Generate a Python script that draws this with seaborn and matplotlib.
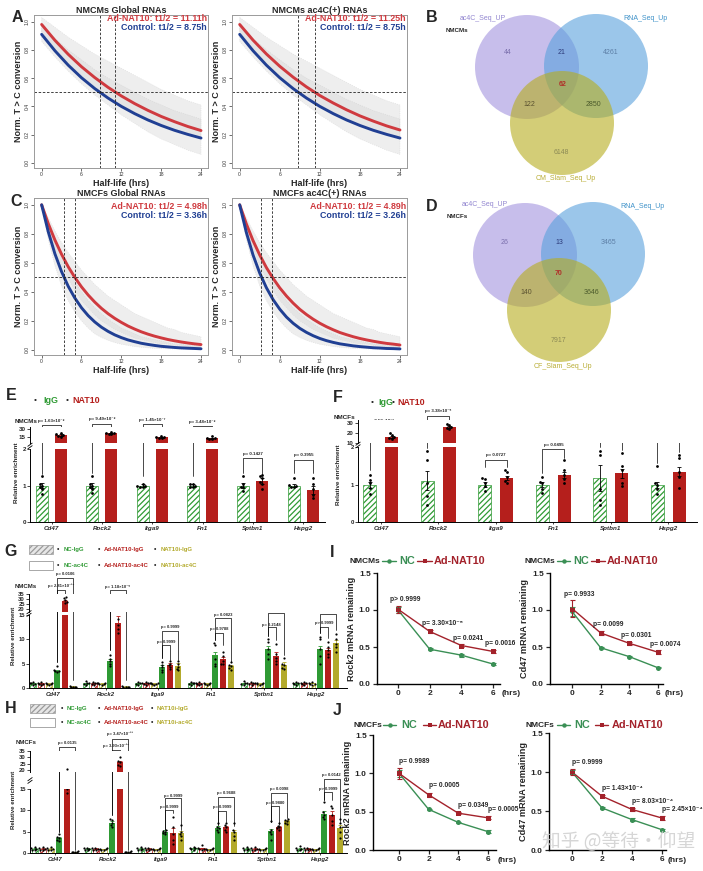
import numpy as np
import pandas as pd
import matplotlib
matplotlib.use("Agg")
import matplotlib.pyplot as plt
import seaborn as sns
from matplotlib.patches import Circle, Rectangle
from matplotlib.transforms import blended_transform_factory, Affine2D
import warnings
warnings.filterwarnings("ignore")

# ======================= DATA =======================
# Panel A (NMCMs) decay curves
A_T = [0, 2, 4, 6, 8, 10, 12, 14, 16, 18, 20, 22, 24]
A1_AD = [0.98, 0.868, 0.769, 0.681, 0.604, 0.535, 0.474, 0.420, 0.372, 0.329, 0.292, 0.258, 0.229]
A1_CTL = [0.91, 0.794, 0.692, 0.603, 0.526, 0.459, 0.400, 0.349, 0.304, 0.265, 0.231, 0.202, 0.176]
A2_AD = [0.98, 0.869, 0.771, 0.684, 0.607, 0.538, 0.477, 0.424, 0.376, 0.333, 0.296, 0.262, 0.233]
A2_CTL = [0.91, 0.794, 0.692, 0.603, 0.526, 0.459, 0.400, 0.349, 0.304, 0.265, 0.231, 0.202, 0.176]
A_BAND_HI = [1.03, 0.96, 0.89, 0.83, 0.77, 0.72, 0.67, 0.62, 0.57, 0.52, 0.48, 0.44, 0.41]
A_BAND_AD_LO = [0.93, 0.81, 0.71, 0.62, 0.54, 0.47, 0.41, 0.36, 0.31, 0.27, 0.23, 0.20, 0.17]
A_BAND_CTL_HI = [0.97, 0.88, 0.80, 0.73, 0.66, 0.60, 0.55, 0.50, 0.45, 0.41, 0.37, 0.34, 0.31]
A_BAND_LO = [0.86, 0.75, 0.65, 0.56, 0.48, 0.41, 0.34, 0.28, 0.22, 0.17, 0.13, 0.09, 0.06]
A1_HALF = (11.11, 8.75)
A2_HALF = (11.25, 8.75)

# Panel C (NMCFs) decay curves
C_T = list(range(0, 25))
C1_AD = [1.000, 0.870, 0.757, 0.659, 0.573, 0.499, 0.434, 0.378, 0.329, 0.286, 0.249, 0.217, 0.189,
         0.164, 0.143, 0.124, 0.108, 0.094, 0.082, 0.071, 0.062, 0.054, 0.047, 0.041, 0.036]
C1_CTL = [1.000, 0.814, 0.662, 0.539, 0.438, 0.357, 0.290, 0.236, 0.192, 0.156, 0.127, 0.103, 0.084,
          0.068, 0.056, 0.045, 0.037, 0.030, 0.024, 0.020, 0.016, 0.013, 0.011, 0.009, 0.007]
C2_AD = [1.000, 0.868, 0.753, 0.654, 0.567, 0.493, 0.427, 0.371, 0.322, 0.279, 0.243, 0.211, 0.183,
         0.159, 0.138, 0.119, 0.104, 0.090, 0.078, 0.068, 0.059, 0.051, 0.044, 0.039, 0.033]
C2_CTL = [1.000, 0.809, 0.654, 0.529, 0.428, 0.346, 0.280, 0.226, 0.183, 0.148, 0.120, 0.097, 0.078,
          0.063, 0.051, 0.041, 0.034, 0.027, 0.022, 0.018, 0.014, 0.012, 0.009, 0.008, 0.006]
C_BAND_HI = [1.0, 0.91, 0.82, 0.74, 0.67, 0.61, 0.55, 0.50, 0.45, 0.41, 0.37, 0.34, 0.31,
             0.28, 0.25, 0.23, 0.21, 0.19, 0.17, 0.15, 0.14, 0.12, 0.11, 0.10, 0.09]
C_BAND_AD_LO = [1.0, 0.84, 0.70, 0.58, 0.49, 0.41, 0.34, 0.29, 0.24, 0.20, 0.17, 0.14, 0.12,
                0.10, 0.08, 0.07, 0.06, 0.05, 0.04, 0.04, 0.03, 0.03, 0.02, 0.02, 0.02]
C_BAND_CTL_HI = [1.0, 0.87, 0.75, 0.64, 0.55, 0.47, 0.40, 0.34, 0.29, 0.25, 0.21, 0.18, 0.15,
                 0.13, 0.11, 0.09, 0.08, 0.07, 0.06, 0.05, 0.04, 0.04, 0.03, 0.03, 0.02]
C_BAND_LO = [1.0, 0.76, 0.58, 0.44, 0.34, 0.26, 0.20, 0.15, 0.11, 0.085, 0.065, 0.05, 0.038,
             0.03, 0.022, 0.017, 0.013, 0.01, 0.008, 0.006, 0.005, 0.004, 0.003, 0.002, 0.002]
C1_HALF = (4.98, 3.36)
C2_HALF = (4.89, 3.26)

# Venn counts (order: only-ac4C, ac4C&RNA, only-RNA, all three, ac4C&Slam, RNA&Slam, only-Slam)
B_COUNTS = ["44", "21", "4261", "62", "122", "2850", "6148"]
D_COUNTS = ["26", "13", "3465", "70", "140", "3646", "7917"]
B_SETS = ["ac4C_Seq_UP", "RNA_Seq_Up", "CM_Slam_Seq_Up"]
D_SETS = ["ac4C_Seq_UP", "RNA_Seq_Up", "CF_Slam_Seq_Up"]

# Panels E / F (RIP enrichment)
GENES = ["Cd47", "Rock2", "Itga9", "Fn1", "Sptbn1", "Hspg2"]
E_IGG = [1.00, 1.00, 1.00, 1.00, 1.00, 1.00]
E_IGG_SEM = [0.07, 0.07, 0.03, 0.03, 0.06, 0.04]
E_NAT = [19.0, 22.0, 15.0, 13.0, 1.13, 0.88]
E_NAT_SEM = [1.0, 0.8, 1.0, 0.8, 0.08, 0.12]
E_IGG_PTS = [[1.25, 1.05, 1.0, 0.95, 0.9, 0.78], [1.25, 1.05, 1.0, 0.95, 0.9, 0.8],
             [1.05, 1.0, 0.98, 0.97, 0.95], [1.05, 1.03, 1.0, 0.97, 0.95],
             [1.25, 1.05, 0.97, 0.95, 0.85], [1.2, 1.02, 1.0, 0.97, 0.95]]
E_NAT_PTS = [[23, 21, 19, 18, 16], [25, 23, 22, 21, 20], [18, 16, 15, 14, 13],
             [17, 14, 13, 12, 11], [1.3, 1.25, 1.2, 1.1, 1.05, 0.9], [1.2, 1.05, 0.9, 0.75, 0.65]]
E_P = ["p= 1.63×10⁻⁸", "p= 9.49×10⁻⁸", "p= 1.45×10⁻⁷", "p= 3.48×10⁻⁸", "p= 0.1427", "p= 0.3955"]

F_IGG = [1.0, 1.1, 1.0, 1.0, 1.18, 1.0]
F_IGG_SEM = [0.08, 0.25, 0.06, 0.06, 0.35, 0.08]
F_NAT = [16.0, 26.0, 1.18, 1.26, 1.30, 1.34]
F_NAT_SEM = [1.0, 0.8, 0.06, 0.08, 0.12, 0.12]
F_IGG_PTS = [[1.26, 1.13, 1.05, 0.9, 0.75], [1.9, 1.66, 1.05, 0.7, 0.45], [1.18, 1.15, 1.03, 0.95, 0.83],
             [1.2, 1.08, 1.03, 0.87, 0.77], [1.9, 1.8, 0.87, 0.6, 0.45], [1.5, 1.03, 0.98, 0.87, 0.75]]
F_NAT_PTS = [[20, 18, 16, 15, 14], [29, 28, 26, 25, 24], [1.4, 1.34, 1.2, 1.1, 1.05],
             [1.66, 1.4, 1.25, 1.15, 1.05], [1.85, 1.5, 1.4, 1.05, 0.97], [1.78, 1.7, 1.34, 1.2, 0.9]]
F_P = ["p= 8.53×10⁻⁶", "p= 3.38×10⁻⁵", "p= 0.0727", "p= 0.0495", "p= 0.7787", "p= 0.0080"]

# Panels G / H (groups: NC-IgG, Ad-NAT10-IgG, NAT10i-IgG, NC-ac4C, Ad-NAT10-ac4C, NAT10i-ac4C)
GROUPS = ["NC-IgG", "Ad-NAT10-IgG", "NAT10i-IgG", "NC-ac4C", "Ad-NAT10-ac4C", "NAT10i-ac4C"]
G_MEAN = [[1.0, 1.0, 0.9, 3.5, 28.0, 0.3], [1.0, 1.0, 0.9, 5.5, 13.3, 0.3],
          [1.0, 1.0, 0.9, 4.3, 4.7, 4.5], [1.0, 1.0, 0.9, 6.7, 5.9, 4.5],
          [1.0, 1.0, 0.9, 8.1, 6.5, 4.8], [1.0, 1.0, 1.0, 8.0, 7.8, 9.2]]
G_SEM = [[0.1, 0.1, 0.05, 0.2, 1.2, 0.05], [0.1, 0.1, 0.05, 0.4, 1.4, 0.05],
         [0.1, 0.1, 0.05, 0.5, 0.4, 0.6], [0.1, 0.1, 0.05, 0.8, 0.5, 0.3],
         [0.1, 0.1, 0.05, 0.6, 0.8, 0.5], [0.1, 0.1, 0.05, 0.6, 0.5, 0.7]]
G_PTS = [
    [[1.3, 1.1, 1.0, 0.8, 0.7], [1.3, 1.1, 0.9, 0.8, 0.7], [1.1, 1.0, 0.9, 0.8, 0.7],
     [4.6, 3.6, 3.5, 3.4, 3.3], [32, 31, 29, 27, 26], [0.4, 0.3, 0.3, 0.25, 0.2]],
    [[1.4, 1.1, 1.0, 0.8, 0.6], [1.2, 1.1, 1.0, 0.9, 0.7], [1.1, 1.0, 0.9, 0.8, 0.7],
     [6.8, 6.0, 5.5, 5.0, 4.5], [15.8, 14.2, 13.0, 12.2, 11.3], [0.4, 0.3, 0.3, 0.25, 0.2]],
    [[1.3, 1.1, 1.0, 0.8, 0.7], [1.2, 1.1, 1.0, 0.8, 0.7], [1.1, 1.0, 0.9, 0.8, 0.7],
     [5.3, 4.8, 4.3, 3.8, 3.2], [5.5, 5.0, 4.7, 4.4, 3.9], [5.5, 4.9, 4.4, 4.0, 3.7]],
    [[1.3, 1.1, 1.0, 0.8, 0.7], [1.3, 1.1, 0.9, 0.8, 0.7], [1.1, 1.0, 0.9, 0.8, 0.7],
     [9.2, 8.8, 6.0, 5.0, 4.5], [7.5, 6.5, 5.5, 5.0, 5.0], [5.3, 4.8, 4.5, 4.1, 3.8]],
    [[1.4, 1.1, 1.0, 0.8, 0.7], [1.2, 1.1, 1.0, 0.8, 0.7], [1.1, 1.0, 0.9, 0.8, 0.7],
     [10.0, 9.5, 8.0, 7.0, 6.0], [9.0, 7.0, 6.2, 5.5, 5.0], [6.2, 5.0, 4.7, 4.2, 3.9]],
    [[1.3, 1.1, 1.0, 0.8, 0.7], [1.2, 1.1, 1.0, 0.8, 0.7], [1.2, 1.0, 0.9, 0.8, 0.7],
     [10.5, 10.0, 8.0, 6.5, 5.0], [9.5, 8.5, 7.8, 7.0, 6.3], [11.0, 10.0, 9.0, 8.5, 7.5]],
]
G_P_LOW = ["p= 2.81×10⁻¹⁰", "p= 4.21×10⁻⁵", "p= 0.9999", "p= 0.9788", "p= 0.2148", "p> 0.9999"]
G_P_HIGH = ["p= 0.0106", "p= 1.18×10⁻⁵", "p= 0.9999", "p= 0.0823", "p= 6.13×10⁻⁴", "p= 0.7026"]

H_MEAN = [[1.0, 1.0, 1.0, 3.5, 17.0, 0.3], [1.0, 1.0, 0.9, 7.1, 26.0, 0.3],
          [1.0, 1.0, 0.9, 5.0, 4.8, 4.6], [1.1, 1.1, 0.9, 5.9, 6.0, 4.9],
          [1.0, 1.0, 0.9, 5.1, 6.1, 7.4], [1.0, 1.0, 0.9, 9.1, 8.9, 5.9]]
H_SEM = [[0.1, 0.1, 0.1, 0.3, 1.5, 0.05], [0.1, 0.1, 0.05, 0.5, 1.0, 0.05],
         [0.1, 0.1, 0.05, 0.3, 1.0, 0.5], [0.15, 0.15, 0.05, 0.4, 0.4, 0.6],
         [0.1, 0.1, 0.05, 0.6, 0.3, 0.3], [0.1, 0.1, 0.05, 0.7, 0.9, 0.7]]
H_PTS = [
    [[1.4, 1.1, 1.0, 0.8, 0.7], [1.3, 1.1, 1.0, 0.8, 0.7], [1.4, 1.1, 0.9, 0.8, 0.7],
     [4.5, 3.8, 3.5, 3.0, 2.7], [21, 18, 17, 15, 14], [0.4, 0.3, 0.3, 0.2, 0.2]],
    [[1.2, 1.1, 1.0, 0.8, 0.7], [1.2, 1.1, 1.0, 0.8, 0.7], [1.1, 1.0, 0.9, 0.8, 0.7],
     [8.0, 7.8, 7.0, 6.5, 6.0], [30, 27, 26, 24, 23], [0.4, 0.3, 0.3, 0.2, 0.2]],
    [[1.3, 1.1, 1.0, 0.8, 0.7], [1.2, 1.1, 1.0, 0.8, 0.7], [1.1, 1.0, 0.9, 0.8, 0.7],
     [5.5, 5.2, 5.0, 4.7, 4.5], [8.5, 6.0, 4.5, 3.0, 2.0], [6.5, 5.0, 4.5, 4.0, 3.0]],
    [[1.5, 1.2, 1.1, 0.9, 0.8], [1.8, 1.2, 1.0, 0.9, 0.7], [1.1, 1.0, 0.9, 0.8, 0.7],
     [7.0, 6.2, 5.8, 5.5, 5.0], [7.0, 6.5, 6.0, 5.5, 5.0], [7.0, 5.5, 5.0, 4.0, 3.0]],
    [[1.3, 1.1, 1.0, 0.8, 0.7], [1.4, 1.1, 1.0, 0.8, 0.7], [1.1, 1.0, 0.9, 0.8, 0.7],
     [7.5, 5.5, 5.0, 4.5, 3.0], [7.0, 6.3, 6.0, 5.8, 5.5], [8.0, 7.8, 7.4, 7.0, 6.8]],
    [[1.6, 1.1, 1.0, 0.8, 0.7], [1.2, 1.1, 1.0, 0.8, 0.7], [1.1, 1.0, 0.9, 0.8, 0.7],
     [12.0, 9.5, 9.0, 8.5, 8.0], [11.0, 10.5, 9.0, 7.5, 6.5], [8.0, 7.0, 6.0, 5.0, 3.5]],
]
H_P_LOW = ["p= 5.97×10⁻¹¹", "p= 3.93×10⁻¹⁰", "p= 0.9999", "p= 0.9999", "p= 0.9880", "p> 0.9999"]
H_P_HIGH = ["p= 0.0135", "p= 3.47×10⁻¹¹", "p= 0.9999", "p= 0.9688", "p= 0.0098", "p= 0.0142"]

# Panels I / J (mRNA remaining)
TIME = [0, 2, 4, 6]
I1_NC = [1.00, 0.47, 0.39, 0.27]; I1_NC_SEM = [0.04, 0.01, 0.02, 0.015]
I1_AD = [1.01, 0.71, 0.52, 0.44]; I1_AD_SEM = [0.05, 0.02, 0.015, 0.02]
I1_P = ["p> 0.9999", "p= 3.30×10⁻⁵", "p= 0.0241", "p= 0.0016"]
I2_NC = [0.98, 0.49, 0.37, 0.22]; I2_NC_SEM = [0.06, 0.01, 0.01, 0.01]
I2_AD = [1.02, 0.69, 0.55, 0.43]; I2_AD_SEM = [0.11, 0.03, 0.02, 0.025]
I2_P = ["p= 0.9933", "p= 0.0099", "p= 0.0301", "p= 0.0074"]
J1_NC = [1.00, 0.53, 0.36, 0.24]; J1_NC_SEM = [0.05, 0.01, 0.01, 0.015]
J1_AD = [1.00, 0.72, 0.48, 0.42]; J1_AD_SEM = [0.07, 0.03, 0.01, 0.02]
J1_P = ["p= 0.9989", "p= 0.0005", "p= 0.0349", "p= 0.0005"]
J2_NC = [1.00, 0.54, 0.39, 0.26]; J2_NC_SEM = [0.03, 0.01, 0.015, 0.01]
J2_AD = [1.00, 0.69, 0.52, 0.41]; J2_AD_SEM = [0.04, 0.01, 0.015, 0.02]
J2_P = ["p= 0.9999", "p= 1.43×10⁻⁴", "p= 8.03×10⁻⁴", "p= 2.45×10⁻⁴"]

# ======================= STYLE =======================
sns.set_theme(style="white")
plt.rcParams["font.family"] = ["Liberation Sans", "DejaVu Sans"]
plt.rcParams["hatch.linewidth"] = 0.9
plt.rcParams["axes.unicode_minus"] = False

RED_A, BLUE_A = "#cf3a3f", "#203f93"
GREEN, RED, OLIVE = "#2f9a34", "#b51f1c", "#b3aa2c"
LGREEN, LRED = "#3a8f55", "#a3222b"

W, H = 703, 871
fig = plt.figure(figsize=(W / 100, H / 100), dpi=100)
PIX = Affine2D().scale(1, -1).translate(0, H)

ov = fig.add_axes([0, 0, 1, 1], zorder=20)
ov.set_xlim(0, W); ov.set_ylim(H, 0); ov.axis("off"); ov.patch.set_alpha(0)


def add_ax(x0, y0, x1, y1):
    return fig.add_axes([x0 / W, 1 - y1 / H, (x1 - x0) / W, (y1 - y0) / H])


def bt(ax):
    return blended_transform_factory(ax.transData, PIX)


def T(x, y, s, **kw):
    ov.text(x, y, s, **kw)


# ======================= A / C =======================
def decay_panel(box, title, t, ad, ctl, bands, halves, ylab):
    ax = add_ax(*box)
    for lo, hi in bands:
        ax.fill_between(t, lo, hi, facecolor="#d8d8d8", alpha=0.42, edgecolor="#bcbcbc",
                        linewidth=0.4, linestyle=(0, (2, 2)))
    df = pd.DataFrame({"t": list(t) * 2, "y": list(ad) + list(ctl),
                       "g": ["Ad-NAT10"] * len(t) + ["Control"] * len(t)})
    sns.lineplot(data=df, x="t", y="y", hue="g", palette={"Ad-NAT10": RED_A, "Control": BLUE_A},
                 linewidth=2.1, legend=False, ax=ax)
    ax.axhline(0.5, color="#222222", lw=0.6, ls=(0, (3, 2)))
    for h in halves:
        ax.axvline(h, color="#222222", lw=0.6, ls=(0, (3, 2)))
    ax.set_xlim(-1.15, 25.05)
    ax.set_ylim(-0.036, 1.047)
    ax.set_xticks([0, 6, 12, 18, 24], labels=["0", "6", "12", "18", "24"])
    ax.set_yticks([0, .2, .4, .6, .8, 1.0], labels=["0.0", "0.2", "0.4", "0.6", "0.8", "1.0"],
                  rotation=90, va="center")
    ax.tick_params(labelsize=3.6, length=2, width=0.5, pad=1, colors="#333333", bottom=True, left=True)
    for s in ax.spines.values():
        s.set_color("#9a9a9a"); s.set_linewidth(0.7)
    ax.set_xlabel("Half-life (hrs)", fontsize=6.5, fontweight="bold", labelpad=1)
    ax.set_ylabel("Norm. T > C conversion", fontsize=6.5, fontweight="bold", labelpad=1)
    ax.set_title(title, fontsize=6.5, fontweight="bold", pad=1.2)
    ax.text(0.993, ylab[0], f"Ad-NAT10: t1/2 = {halves[0]:.2f}h", transform=ax.transAxes, ha="right",
            va="center", color=RED_A, fontsize=6.4, fontweight="bold")
    ax.text(0.993, ylab[1], f"Control: t1/2 = {halves[1]:.2f}h", transform=ax.transAxes, ha="right",
            va="center", color=BLUE_A, fontsize=6.4, fontweight="bold")
    return ax


A_BANDS = [(A_BAND_AD_LO, A_BAND_HI), (A_BAND_LO, A_BAND_CTL_HI)]
C_BANDS = [(C_BAND_AD_LO, C_BAND_HI), (C_BAND_LO, C_BAND_CTL_HI)]
decay_panel((34, 15, 208, 168), "NMCMs Global RNAs", A_T, A1_AD, A1_CTL, A_BANDS, A1_HALF, (0.974, 0.92))
decay_panel((232, 15, 407, 168), "NMCMs ac4C(+) RNAs", A_T, A2_AD, A2_CTL, A_BANDS, A2_HALF, (0.974, 0.92))
decay_panel((34, 198, 208, 355), "NMCFs Global RNAs", C_T, C1_AD, C1_CTL, C_BANDS, C1_HALF, (0.943, 0.89))
decay_panel((232, 198, 407, 355), "NMCFs ac4C(+) RNAs", C_T, C2_AD, C2_CTL, C_BANDS, C2_HALF, (0.943, 0.89))


# ======================= B / D venn =======================
def venn(box, centers, counts, sets, cell, cpos, lpos, cellpos):
    ax = add_ax(*box)
    ax.set_xlim(box[0], box[2]); ax.set_ylim(box[3], box[1]); ax.axis("off")
    fills = ["#a393de", "#58a0dc", "#b6ad1c"]
    for (cx, cy), fc in zip(centers, fills):
        ax.add_patch(Circle((cx, cy), 52, facecolor=fc, alpha=0.6, edgecolor="none"))
    ccols = ["#7b70ad", "#2c3a7a", "#5d7fa6", "#b0302a", "#5a5130", "#4b5a2c", "#8c8a55"]
    for i, (s, (x, y), c) in enumerate(zip(counts, cpos, ccols)):
        ax.text(x, y, s, ha="center", va="center", fontsize=5, color=c,
                fontweight="bold" if i == 3 else "normal")
    lcols = ["#9286d0", "#3f92c9", "#b9ad35"]
    for s, (x, y), c in zip(sets, lpos, lcols):
        ax.text(x, y, s, ha="center", va="center", fontsize=5, color=c)
    ax.text(cellpos[0], cellpos[1], cell, ha="center", va="center", fontsize=4.5, fontweight="bold")


venn((360, 0, 703, 182), [(527, 67), (596, 66), (562, 123)], B_COUNTS, B_SETS, "NMCMs",
     [(508, 52), (562, 52), (611, 52), (563, 84), (529, 104), (593, 104), (561, 152)],
     [(483, 18), (645, 18), (566, 178)], (457, 30))
venn((360, 185, 703, 372), [(525, 255), (593, 254), (559, 310)], D_COUNTS, D_SETS, "NMCFs",
     [(505, 242), (559, 242), (608, 242), (559, 274), (526, 293), (591, 293), (558, 341)],
     [(485, 205), (642, 206), (563, 367)], (457, 216))


# ======================= bar helpers =======================
def positions(ngenes, nslots, slot):
    return [[g + (k - (nslots - 1) / 2) * slot for k in range(nslots)] for g in range(ngenes)]


def draw_bars(ax, pos, means, sems, pts, colors, hatched, width, ecols, psize, vmin):
    xs, ks, vs = [], [], []
    for gi in range(len(means)):
        for k in range(len(means[gi])):
            if means[gi][k] > vmin:
                xs.append(pos[gi][k]); ks.append(k); vs.append(means[gi][k])
    if not xs:
        return
    allx = sorted({p for row in pos for p in row})
    nat_w = min(np.diff(allx))
    df = pd.DataFrame({"x": xs, "grp": [str(k) for k in ks], "v": vs})
    pal = {str(k): colors[k] for k in sorted(set(ks))}
    sns.barplot(data=df, x="x", y="v", hue="grp", palette=pal, native_scale=True, dodge=False,
                width=1.0, errorbar=None, legend=False, saturation=1, orient="x", ax=ax)
    xarr = np.array(xs)
    for p in ax.patches:
        cx = p.get_x() + p.get_width() / 2
        k = ks[int(np.argmin(np.abs(xarr - cx)))]
        p.set_x(cx - width * nat_w / 2); p.set_width(width * nat_w)
        if hatched[k]:
            p.set_facecolor("white"); p.set_edgecolor(colors[k]); p.set_hatch("//////"); p.set_linewidth(0.5)
        else:
            p.set_edgecolor(colors[k]); p.set_linewidth(0)
    for x, k, v in zip(xs, ks, vs):
        gi = int(round(x))
        ax.errorbar([x], [v], yerr=[[sems[gi][k]], [sems[gi][k]]], fmt="none",
                    ecolor=ecols[k], elinewidth=0.6, capsize=1.4, capthick=0.6, zorder=3)
    px, pv = [], []
    for gi in range(len(pts)):
        for k in range(len(pts[gi])):
            for v in pts[gi][k]:
                if v > vmin:
                    px.append(pos[gi][k]); pv.append(v)
    if px:
        sns.swarmplot(x=px, y=pv, native_scale=True, orient="x", color="black", size=psize, ax=ax,
                      legend=False, zorder=4)


def broken(lo_box, up_box, lo_lim, up_lim, lo_ticks, up_ticks, xlim, pos, means, sems, pts, colors,
           hatched, width, ecols, psize, tick_fs, gene_fs):
    axl = add_ax(*lo_box)
    axu = add_ax(*up_box)
    for ax, vmin in ((axl, -1e9), (axu, up_lim[0])):
        draw_bars(ax, pos, means, sems, pts, colors, hatched, width, ecols, psize, vmin)
        ax.set_xlim(*xlim)
        ax.set_xlabel(""); ax.set_ylabel("")
    axl.set_ylim(*lo_lim); axu.set_ylim(*up_lim)
    axl.set_yticks(lo_ticks, labels=[str(v) for v in lo_ticks], fontweight="bold", fontsize=tick_fs)
    axu.set_yticks(up_ticks, labels=[str(v) for v in up_ticks], fontweight="bold", fontsize=tick_fs)
    axl.set_xticks(range(len(GENES)), labels=GENES, fontstyle="italic", fontweight="bold", fontsize=gene_fs)
    axu.set_xticks([])
    for ax in (axl, axu):
        ax.tick_params(axis="y", length=2, width=0.6, pad=1, left=True)
    axl.tick_params(axis="x", length=1.5, width=0.6, pad=1.5, bottom=True)
    sns.despine(ax=axl)
    sns.despine(ax=axu, bottom=True)
    for sp in (axu.spines["left"], axl.spines["left"], axl.spines["bottom"]):
        sp.set_color("black"); sp.set_linewidth(0.7)
    x0 = lo_box[0]
    yb = (up_box[3] + lo_box[1]) / 2
    for dy in (-1.3, 1.3):
        ov.plot([x0 - 2.2, x0 + 2.2], [yb + dy + 1.6, yb + dy - 1.6], color="black", lw=0.6)
    return axl, axu


def bracket(ax, x1, x2, yline, yl1, yl2, text, ty, fs=3.2):
    tr = bt(ax)
    ax.plot([x1, x1, x2, x2], [yl1, yline, yline, yl2], transform=tr, color="black", lw=0.5, clip_on=False)
    ax.text((x1 + x2) / 2, ty, text, transform=tr, ha="center", va="center", fontsize=fs,
            fontweight="bold", clip_on=False)


# ======================= E =======================
E_POS = positions(6, 2, 0.377)
eL, eU = broken((30, 449, 325, 522), (30, 427, 325, 443), (0, 2), (4, 34), [0, 1, 2], [15, 30],
                (-0.427, 5.43), E_POS, [[a, b] for a, b in zip(E_IGG, E_NAT)],
                [[a, b] for a, b in zip(E_IGG_SEM, E_NAT_SEM)],
                [[a, b] for a, b in zip(E_IGG_PTS, E_NAT_PTS)],
                [GREEN, RED], [True, False], 0.63, ["black", "black"], 2.0, 4.5, 4.5)
E_BR = [(425, 474, 431, 421), (424, 473, 430, 419), (424, 476, 433, 420), (426, 476, 435, 422),
        (458, 473, 475, 454), (460, 473, 473, 455)]
for gi, (yl, l1, l2, ty) in enumerate(E_BR):
    bracket(eL, E_POS[gi][0], E_POS[gi][1], yl, l1, l2, E_P[gi], ty)

# ======================= F =======================
F_POS = positions(6, 2, 0.383)
fL, fU = broken((358, 447, 697, 522), (358, 420, 697, 443), (0, 2), (10, 33), [0, 1, 2], [10, 20, 30],
                (-0.40, 5.5), F_POS, [[a, b] for a, b in zip(F_IGG, F_NAT)],
                [[a, b] for a, b in zip(F_IGG_SEM, F_NAT_SEM)],
                [[a, b] for a, b in zip(F_IGG_PTS, F_NAT_PTS)],
                [GREEN, RED], [True, False], 0.59, ["black", "black"], 2.0, 4.3, 4.5)
F_BR = [(427, 470, 433, 421), (416, 448, 422, 411), (460, 467, 467, 455), (449, 473, 458, 445),
        (439, 447, 450, 436), (442, 463, 452, 437)]
for gi, (yl, l1, l2, ty) in enumerate(F_BR):
    bracket(fL, F_POS[gi][0], F_POS[gi][1], yl, l1, l2, F_P[gi], ty)

# ======================= G / H =======================
GH_COLORS = [GREEN, RED, OLIVE, GREEN, RED, OLIVE]
GH_HATCH = [True, True, True, False, False, False]
G_POS = positions(6, 6, 0.152)
gL, gU = broken((29, 615, 347, 688), (29, 594, 347, 612), (0, 15), (17, 35), [0, 5, 10, 15],
                [20, 25, 30, 35], (-0.455, 5.58), G_POS, G_MEAN, G_SEM, G_PTS, GH_COLORS, GH_HATCH,
                0.75, GH_COLORS, 1.6, 4.2, 4.3)
# (upper line, upper text, lower line, lower text, leg NC, leg Ad, leg NAT10i)
G_BR = [(578, 574, 590, 586, 662, 594, 680), (590, 587, 605, 602, 650, 608, 680),
        (631, 627, 645, 642, 658, 660, 660), (618, 615, 633, 629, 640, 645, 662),
        (613, 610, 627, 625, 636, 640, 655), (614, 610, 627, 623, 633, 638, 630)]
for gi, (uy, uty, ly, lty, lnc, lad, li) in enumerate(G_BR):
    bracket(gL, G_POS[gi][3], G_POS[gi][4], ly, lnc, lad, G_P_LOW[gi], lty, fs=3.0)
    bracket(gL, G_POS[gi][3], G_POS[gi][5], uy, lnc, li, G_P_HIGH[gi], uty, fs=3.0)

H_POS = positions(6, 6, 0.152)
hL, hU = broken((30, 789, 347, 853), (30, 751, 347, 772), (0, 15), (18.5, 35), [0, 5, 10, 15],
                [20, 25, 30, 35], (-0.466, 5.515), H_POS, H_MEAN, H_SEM, H_PTS, GH_COLORS, GH_HATCH,
                0.75, GH_COLORS, 1.6, 4.2, 4.3)
H_BR = [(747, 743, 759, 755, 832, 765, 850), (739, 734, 750, 746, 815, 756, 850),
        (798, 796, 810, 807, 830, 813, 830), (797, 793, 811, 807, 825, 822, 826),
        (793, 789, 806, 803, 822, 825, 818), (779, 775, 792, 789, 800, 800, 822)]
for gi, (uy, uty, ly, lty, lnc, lad, li) in enumerate(H_BR):
    bracket(hL, H_POS[gi][3], H_POS[gi][4], ly, lnc, lad, H_P_LOW[gi], lty, fs=3.0)
    bracket(hL, H_POS[gi][3], H_POS[gi][5], uy, lnc, li, H_P_HIGH[gi], uty, fs=3.0)


# ======================= I / J =======================
def remain_panel(box, xlim, nc, nc_sem, ad, ad_sem, pvals, ylabel, pdx, hrs_y):
    ax = add_ax(*box)
    df = pd.DataFrame({"t": TIME * 2, "v": nc + ad, "g": ["NC"] * 4 + ["Ad-NAT10"] * 4})
    sns.lineplot(data=df, x="t", y="v", hue="g", style="g", markers={"NC": "o", "Ad-NAT10": "s"},
                 dashes=False, palette={"NC": LGREEN, "Ad-NAT10": LRED}, linewidth=1.0,
                 markersize=3.6, markeredgewidth=0, legend=False, ax=ax)
    ax.errorbar(TIME, nc, yerr=nc_sem, fmt="none", ecolor=LGREEN, elinewidth=0.8, capsize=1.8, capthick=0.8)
    ax.errorbar(TIME, ad, yerr=ad_sem, fmt="none", ecolor=LRED, elinewidth=0.8, capsize=1.8, capthick=0.8)
    for t, a, s, p in zip(TIME, ad, ad_sem, pvals):
        ax.text(t + pdx, a + s + 0.085, p, ha="left", va="center", fontsize=4.8, fontweight="bold")
    ax.set_xlim(*xlim); ax.set_ylim(0, 1.5)
    ax.set_xticks(TIME, labels=["0", "2", "4", "6"], fontweight="bold", fontsize=6)
    ax.set_yticks([0, 0.5, 1.0, 1.5], labels=["0.0", "0.5", "1.0", "1.5"], fontweight="bold", fontsize=6)
    ax.tick_params(length=3, width=0.9, pad=1.5, bottom=True, left=True)
    sns.despine(ax=ax)
    for s in ("left", "bottom"):
        ax.spines[s].set_color("black"); ax.spines[s].set_linewidth(1.0)
    ax.set_xlabel("")
    ax.set_ylabel(ylabel, fontsize=6.6, fontweight="bold", labelpad=2)
    T(box[2] + 2, hrs_y, "(hrs)", fontsize=6, fontweight="bold", ha="left", va="center")
    return ax


remain_panel((377, 573, 500, 684), (-1.33, 6.44), I1_NC, I1_NC_SEM, I1_AD, I1_AD_SEM, I1_P,
             "Rock2 mRNA remaining", -0.5, 693)
remain_panel((550, 573, 663, 684), (-1.54, 6.36), I2_NC, I2_NC_SEM, I2_AD, I2_AD_SEM, I2_P,
             "Cd47 mRNA remaining", -0.55, 693)
remain_panel((373, 735, 496, 850), (-1.76, 6.55), J1_NC, J1_NC_SEM, J1_AD, J1_AD_SEM, J1_P,
             "Rock2 mRNA remaining", 0.0, 860)
remain_panel((549, 733, 666, 850), (-1.53, 6.27), J2_NC, J2_NC_SEM, J2_AD, J2_AD_SEM, J2_P,
             "Cd47 mRNA remaining", 0.0, 860)


def line_legend(cell, x_cell_end, y, l1, nc_x, l2, ad_x):
    T(x_cell_end, y, cell, ha="right", va="center", fontsize=6, fontweight="bold")
    ov.plot([l1[0], l1[1]], [y, y], color=LGREEN, lw=1.0)
    ov.plot([(l1[0] + l1[1]) / 2], [y], marker="o", color=LGREEN, ms=3.2, mew=0)
    T(nc_x, y, "NC", ha="left", va="center", fontsize=7.8, fontweight="bold", color=LGREEN)
    ov.plot([l2[0], l2[1]], [y, y], color=LRED, lw=1.0)
    ov.plot([(l2[0] + l2[1]) / 2], [y], marker="s", color=LRED, ms=3.4, mew=0)
    T(ad_x, y, "Ad-NAT10", ha="left", va="center", fontsize=7.8, fontweight="bold", color=LRED)


line_legend("NMCMs", 380, 561, (382, 396), 399, (417, 432), 434)
line_legend("NMCMs", 555, 561, (557, 570), 573, (591, 605), 607)
line_legend("NMCFs", 382, 725, (383, 396), 401, (423, 436), 438)
line_legend("NMCFs", 554, 725, (557, 570), 574, (595, 608), 612)

# ======================= legends & labels =======================
for (xd1, xg, xd2, xn, y) in [(35, 43, 67, 72, 400), (372, 378, 393, 397, 402)]:
    T(xd1, y, "•", ha="center", va="center", fontsize=6)
    T(xg, y, "IgG", ha="left", va="center", fontsize=6.4, fontweight="bold", color=GREEN)
    T(xd2, y, "•", ha="center", va="center", fontsize=6)
    T(xn, y, "NAT10", ha="left", va="center", fontsize=6.4, fontweight="bold", color=RED)

T(26, 421, "NMCMs", ha="center", va="center", fontsize=4.6, fontweight="bold")
T(345, 417, "NMCFs", ha="center", va="center", fontsize=4.6, fontweight="bold")
T(16, 473, "Relative enrichment", rotation=90, ha="center", va="center", fontsize=4.6, fontweight="bold")
T(338, 475, "Relative enrichment", rotation=90, ha="center", va="center", fontsize=4.6, fontweight="bold")

for (ybox1, ybox2, xb0, xb1, xd, xt) in [(549, 565, 29, 53, (58, 99, 155), (64, 104, 161)),
                                          (708, 722, 30, 55, (62, 99, 152), (67, 104, 157))]:
    ov.add_patch(Rectangle((xb0, ybox1 - 4.5), xb1 - xb0, 9, facecolor="#e6e6e6", edgecolor="#9a9a9a",
                           hatch="//////", lw=0.5))
    ov.add_patch(Rectangle((xb0, ybox2 - 4.5), xb1 - xb0, 9, facecolor="white", edgecolor="#9a9a9a", lw=0.6))
    for row, y in enumerate((ybox1, ybox2)):
        for j in range(3):
            T(xd[j], y, "•", ha="center", va="center", fontsize=5)
            T(xt[j], y, GROUPS[row * 3 + j], ha="left", va="center", fontsize=4.3, fontweight="bold",
              color=[GREEN, RED, OLIVE][j])

T(26, 586, "NMCMs", ha="center", va="center", fontsize=4.4, fontweight="bold")
T(26, 742, "NMCFs", ha="center", va="center", fontsize=4.4, fontweight="bold")
T(14, 636, "Relative enrichment", rotation=90, ha="center", va="center", fontsize=4.4, fontweight="bold")
T(14, 800, "Relative enrichment", rotation=90, ha="center", va="center", fontsize=4.4, fontweight="bold")

for s, x, y in [("A", 17, 18), ("B", 432, 18), ("C", 16, 201), ("D", 432, 206), ("E", 11, 395),
                ("F", 338, 397), ("G", 11, 551), ("H", 11, 708), ("I", 332, 552), ("J", 337, 710)]:
    T(x, y, s, ha="center", va="center", fontsize=11.5, fontweight="bold")

T(619, 841, "知乎 @等待·仰望", ha="center", va="center", fontsize=13.5, color="#cfcfcf", alpha=0.85,
  family=["Noto Sans CJK SC", "DejaVu Sans"])

fig.savefig("out.png", dpi=100)
